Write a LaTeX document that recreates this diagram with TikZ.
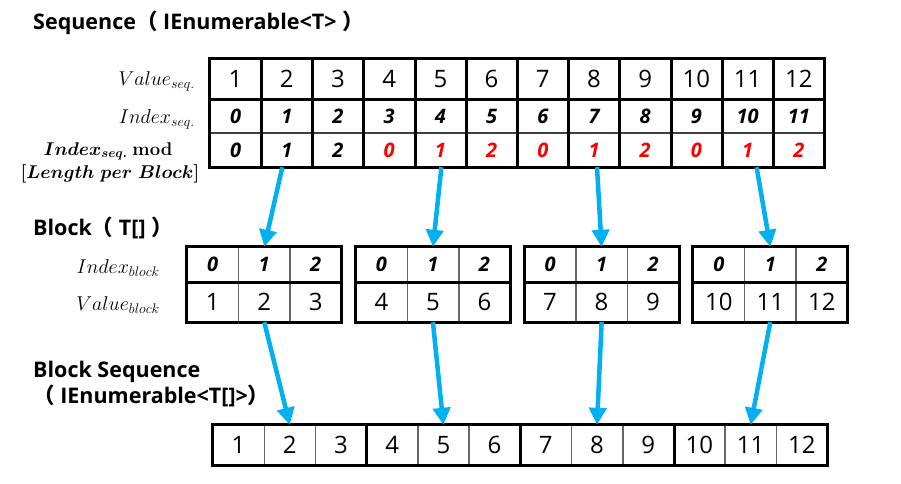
\documentclass[tikz,border=0pt]{standalone}
\usepackage{fix-cm}
\usepackage{fontspec}
\setmainfont{Open Sans}
\newfontfamily\cjk{Noto Sans CJK SC}
\usetikzlibrary{arrows.meta}
\definecolor{arrowblue}{RGB}{0,176,240}
\definecolor{modred}{RGB}{255,0,0}
\tikzset{
  cell/.style={inner sep=0pt, minimum width=51.2pt, font=\fontsize{24}{24}\selectfont},
  idxcell/.style={cell, font=\fontsize{20}{20}\selectfont\bfseries\itshape},
  heavy/.style={line width=3pt},
  midline/.style={line width=2pt, black!75},
  light/.style={line width=1.5pt, black!60},
  mapto/.style={arrowblue, line width=4.5pt, -{Triangle[width=17pt,length=17pt]}},
  title/.style={anchor=base west, inner sep=0pt, font=\fontsize{21.5}{24}\selectfont\bfseries},
  rowlabel/.style={anchor=base east, inner sep=0pt, font=\fontsize{20}{22}\selectfont},
  modlabel/.style={anchor=base, inner sep=0pt, font=\fontsize{18.5}{22}\selectfont\boldmath},
}
\begin{document}
\begin{tikzpicture}[x=1pt, y=-1pt] % Sequence -> Blocks -> Block Sequence
\useasboundingbox (0,0) rectangle (901,483);
% titles
\node[title] (t-seq) at (33,29) {Sequence{\cjk （} IEnumerable<T> {\cjk ）}};
\node[title] (t-block) at (33,235) {Block{\cjk （} T[] {\cjk ）}};
\node[title] (t-bseq) at (33,377) {Block Sequence};
\node[title] (t-bseq2) at (33,403) {{\cjk （} IEnumerable<T[]>{\cjk ）}};
% row labels
\node[rowlabel] (l-val) at (195,85) {$Value_{seq.}$};
\node[rowlabel] (l-idx) at (195,123) {$Index_{seq.}$};
\node[modlabel] (l-mod) at (108,155) {$Index_{seq.}$ $\mathbf{mod}$};
\node[modlabel] (l-len) at (110,178) {$[Length\;per\;Block]$};
\node[rowlabel] (l-bidx) at (160,273) {$Index_{block}$};
\node[rowlabel] (l-bval) at (160,310) {$Value_{block}$};
% sequence table
\foreach \i in {1,...,12} {
  \pgfmathtruncatemacro\n{\i-1}
  \pgfmathtruncatemacro\r{mod(\n,3)}
  \node[cell, minimum height=40pt] (val-\i) at ({210+(\i-0.5)*51.2},79) {\i};
  \node[idxcell, minimum height=34pt] (idx-\i) at ({210+(\i-0.5)*51.2},116) {\n};
  \ifnum\i>3
    \node[idxcell, minimum height=34pt, text=modred] (mod-\i) at ({210+(\i-0.5)*51.2},150) {\r};
  \else
    \node[idxcell, minimum height=34pt] (mod-\i) at ({210+(\i-0.5)*51.2},150) {\r};
  \fi
}
\draw[midline] (idx-1.south west) -- (idx-12.south east);
\foreach \i in {1,...,11}
  \draw[heavy] (val-\i.north east) -- (mod-\i.south east);
\draw[heavy] (val-1.south west) -- (val-12.south east);
\draw[heavy] (val-1.north west) rectangle (mod-12.south east);
% blocks
\foreach \k in {1,...,4} {
  \foreach \j in {1,2,3} {
    \pgfmathtruncatemacro\n{\j-1}
    \pgfmathtruncatemacro\v{3*(\k-1)+\j}
    \node[idxcell, minimum width=51.5pt, minimum height=35pt] (b\k-i\j) at ({187+(\k-1)*168.67+(\j-0.5)*51.5},264.5) {\n};
    \node[cell, minimum width=51.5pt, minimum height=40pt] (b\k-v\j) at ({187+(\k-1)*168.67+(\j-0.5)*51.5},302) {\v};
  }
  \draw[light] (b\k-i1.north east) -- (b\k-v1.south east);
  \draw[light] (b\k-i2.north east) -- (b\k-v2.south east);
  \draw[heavy] (b\k-i1.south west) -- (b\k-i3.south east);
  \draw[heavy] (b\k-i1.north west) rectangle (b\k-v3.south east);
}
% block sequence
\foreach \i in {1,...,12}
  \node[cell, minimum height=40pt] (bs-\i) at ({213+(\i-0.5)*51.2},445) {\i};
\foreach \i in {1,2,4,5,7,8,10,11}
  \draw[light] (bs-\i.north east) -- (bs-\i.south east);
\foreach \i in {3,6,9}
  \draw[heavy] (bs-\i.north east) -- (bs-\i.south east);
\draw[heavy] (bs-1.north west) rectangle (bs-12.south east);
% arrows
\foreach \k/\d in {1/-4.5,2/1,3/3,4/9} {
  \pgfmathtruncatemacro\m{3*\k-1}
  \draw[mapto] ([xshift=\d pt]mod-\m.south) -- (b\k-i2.north);
  \draw[mapto] (b\k-v2.south) -- (bs-\m.north);
}
\end{tikzpicture}
\end{document}
